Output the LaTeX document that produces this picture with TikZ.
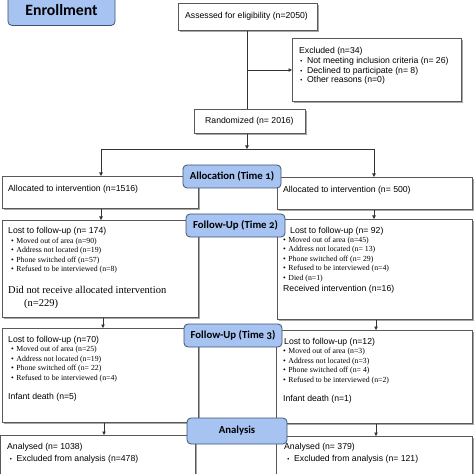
\documentclass[tikz,border=0pt]{standalone}
\usepackage{fontspec}
\setmainfont{Liberation Sans}
\newfontfamily\tnr{Liberation Serif}
\newfontfamily\calfont{Carlito}[Numbers=OldStyle]
\usetikzlibrary{arrows.meta,shadows}
\definecolor{labblue}{HTML}{A6C3F2}
\definecolor{labedge}{HTML}{3E5272}
\newcommand{\sbul}{{\tnr\fontsize{7}{8}\selectfont\textbullet}\hspace{4.5bp}}
\begin{document}
\begin{tikzpicture}[x=1bp,y=-1bp,
  box/.style={draw=black!65, line width=0.9pt, fill=white, inner sep=0pt, anchor=north west,
    drop shadow={shadow xshift=1.2pt, shadow yshift=-1.2pt, fill=black!35, opacity=1}},
  lab/.style={draw=labedge, fill=labblue, rounded corners=4bp, line width=0.8pt, inner sep=0pt,
    font=\calfont\bfseries\fontsize{10.8}{12}\selectfont},
  txt/.style={inner sep=0pt, anchor=west, font=\fontsize{8.7}{10}\selectfont},
  sm/.style={inner sep=0pt, anchor=west, font=\tnr\fontsize{7.8}{9}\selectfont},
  big/.style={inner sep=0pt, anchor=west, font=\tnr\fontsize{10.5}{12}\selectfont},
  arr/.style={draw=black!80, line width=0.8pt, -{Triangle[length=3.5bp,width=3.5bp]}},
  ln/.style={draw=black!80, line width=0.8pt}]
\useasboundingbox (0,0) rectangle (474,474);

% Enrollment
\node[lab, minimum width=107bp, minimum height=30bp, font=\calfont\bfseries\fontsize{15.8}{17}\selectfont] (enr) at (61.5,10.5) {Enrollment};

% top boxes
\node[box, minimum width=139bp, minimum height=27bp] (assess) at (178,3) {};
\node[txt] (tassess) at (185,16.5) {Assessed for eligibility (n=2050)};

\node[box, minimum width=169bp, minimum height=63bp] (excl) at (292,38) {};
\node[txt] (te1) at (299,51.5) {Excluded (n=34)};
\node[txt] (te2) at (300,61.5) {\sbul Not meeting inclusion criteria (n= 26)};
\node[txt] (te3) at (300,71) {\sbul Declined to participate (n= 8)};
\node[txt] (te4) at (300,80.5) {\sbul Other reasons (n=0)};

\node[box, minimum width=111bp, minimum height=24bp] (rand) at (194,109) {};
\node[txt] (trand) at (205,121.5) {Randomized (n= 2016)};

\coordinate (mid) at (247,70);
\coordinate (split) at (247,149);
\coordinate (sL) at (101,149);
\coordinate (sR) at (374,149);
\draw[ln] (assess.south -| mid) -- (rand.north -| mid);
\draw[arr] (mid) -- (excl.west |- mid);
\draw[arr] (rand.south -| split) -- (split);
\draw[ln] (sL) -- (sR);

% allocation
\node[box, minimum width=196bp, minimum height=32bp] (aL) at (2,176) {};
\node[txt] (taL) at (8,189.5) {Allocated to intervention (n=1516)};
\node[box, minimum width=195bp, minimum height=32bp] (aR) at (277,177) {};
\node[txt] (taR) at (283,190) {Allocated to intervention (n= 500)};
\draw[arr] (sL) -- (aL.north -| sL);
\draw[arr] (sR) -- (aR.north -| sR);

% follow-up 2
\node[box, minimum width=196bp, minimum height=97bp] (fL) at (2,220) {};
\node[txt] (tf1) at (8,231.5) {Lost to follow-up (n= 174)};
\node[sm] (tf2) at (11,241.5) {\textbullet\hspace{2.5bp}Moved out of area (n=90)};
\node[sm] (tf3) at (11,251) {\textbullet\hspace{2.5bp}Address not located (n=19)};
\node[sm] (tf4) at (11,260.5) {\textbullet\hspace{2.5bp}Phone switched off (n=57)};
\node[sm] (tf5) at (11,270) {\textbullet\hspace{2.5bp}Refused to be interviewed (n=8)};
\node[big] (tf6) at (8,290) {Did not receive allocated intervention};
\node[big] (tf7) at (24,303.5) {(n=229)};

\node[box, minimum width=195bp, minimum height=100bp] (gR) at (277,219) {};
\node[txt] (tg1) at (290,231.5) {Lost to follow-up (n= 92)};
\node[sm] (tg2) at (283,240.5) {\textbullet\hspace{2.5bp}Moved out of area (n=45)};
\node[sm] (tg3) at (283,250) {\textbullet\hspace{2.5bp}Address not located (n= 13)};
\node[sm] (tg4) at (283,259.5) {\textbullet\hspace{2.5bp}Phone switched off (n= 29)};
\node[sm] (tg5) at (283,269) {\textbullet\hspace{2.5bp}Refused to be interviewed (n=4)};
\node[sm] (tg6) at (283,278.5) {\textbullet\hspace{2.5bp}Died (n=1)};
\node[txt] (tg7) at (283,289) {Received intervention (n=16)};

\coordinate (c2L) at (101,214);
\coordinate (c2R) at (374,214);
\draw[arr] (aL.south -| c2L) -- (fL.north -| c2L);
\draw[arr] (aR.south -| c2R) -- (gR.north -| c2R);

% follow-up 3
\node[box, minimum width=196bp, minimum height=94bp] (hL) at (2,328) {};
\node[txt] (th1) at (8,340.5) {Lost to follow-up (n=70)};
\node[sm] (th2) at (11,350) {\textbullet\hspace{2.5bp}Moved out of area (n=25)};
\node[sm] (th3) at (11,359.5) {\textbullet\hspace{2.5bp}Address not located (n=19)};
\node[sm] (th4) at (11,369) {\textbullet\hspace{2.5bp}Phone switched off (n= 22)};
\node[sm] (th5) at (11,378.5) {\textbullet\hspace{2.5bp}Refused to be interviewed (n=4)};
\node[txt] (th6) at (8,397.5) {Infant death (n=5)};

\node[box, minimum width=196bp, minimum height=93bp] (iR) at (276,330) {};
\node[txt] (ti1) at (284,342) {Lost to follow-up (n=12)};
\node[sm] (ti2) at (283,352) {\textbullet\hspace{2.5bp}Moved out of area (n=3)};
\node[sm] (ti3) at (283,361.5) {\textbullet\hspace{2.5bp}Address not located (n=3)};
\node[sm] (ti4) at (283,371) {\textbullet\hspace{2.5bp}Phone switched off (n= 4)};
\node[sm] (ti5) at (283,380.5) {\textbullet\hspace{2.5bp}Refused to be interviewed (n=2)};
\node[txt] (ti6) at (283,399.5) {Infant death (n=1)};

\coordinate (c3L) at (103,322);
\coordinate (c3R) at (376,322);
\draw[arr] (fL.south -| c3L) -- (hL.north -| c3L);
\draw[arr] (gR.south -| c3R) -- (iR.north -| c3R);

% analysis
\node[box, minimum width=195bp, minimum height=50bp] (jL) at (0,435) {};
\node[txt] (tj1) at (7,447.5) {Analysed (n= 1038)};
\node[txt] (tj2) at (9.5,459.5) {\sbul Excluded from analysis (n=478)};
\node[box, minimum width=196bp, minimum height=50bp] (kR) at (276,436) {};
\node[txt] (tk1) at (284,447.5) {Analysed (n= 379)};
\node[txt] (tk2) at (287,459.5) {\sbul Excluded from analysis (n= 121)};

\coordinate (c4L) at (104,428);
\coordinate (c4R) at (376,428);
\draw[arr] (hL.south -| c4L) -- (jL.north -| c4L);
\draw[arr] (iR.south -| c4R) -- (kR.north -| c4R);

% stage labels
\node[lab, minimum width=98bp, minimum height=23bp] (l1) at (232,176.5) {Allocation (Time 1)};
\node[lab, minimum width=99bp, minimum height=23bp] (l2) at (235.5,225.5) {Follow-Up (Time 2)};
\node[lab, minimum width=98bp, minimum height=23bp] (l3) at (233,335.5) {Follow-Up (Time 3)};
\node[lab, minimum width=100bp, minimum height=26bp] (l4) at (237,431) {Analysis};
\end{tikzpicture}
\end{document}
